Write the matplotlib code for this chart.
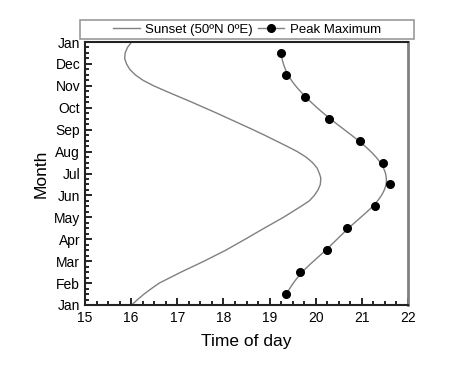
import numpy as np
import matplotlib
matplotlib.use("Agg")
import matplotlib.pyplot as plt
from matplotlib.patches import Rectangle
from matplotlib.ticker import MultipleLocator

plt.rcParams['font.family'] = ['Liberation Sans', 'DejaVu Sans']

# sunset curve (month position, hour of day)
sunset_month = [0.00, 0.25, 0.50, 0.75, 1.00, 1.50, 2.00, 2.50, 3.00, 3.50,
                4.00, 4.50, 4.75, 5.00, 5.25, 5.50, 5.80, 6.00, 6.25, 6.50,
                6.75, 7.00, 7.25, 7.50, 7.75, 8.00, 8.25, 8.50, 8.75, 9.00,
                9.25, 9.50, 9.75, 10.00, 10.25, 10.50, 10.75, 11.00, 11.25,
                11.50, 11.75, 12.00]
sunset_hour = [16.01, 16.14, 16.28, 16.44, 16.61, 17.08, 17.58, 18.05, 18.47, 18.88,
               19.30, 19.68, 19.86, 19.97, 20.05, 20.10, 20.11, 20.08, 20.03, 19.93,
               19.79, 19.60, 19.37, 19.13, 18.89, 18.64, 18.38, 18.12, 17.86, 17.59,
               17.32, 17.04, 16.76, 16.49, 16.26, 16.09, 15.97, 15.90, 15.86,
               15.87, 15.92, 16.01]

# peak maximum, one point per month (mid-month)
peak_month = [0.5, 1.5, 2.5, 3.5, 4.5, 5.5, 6.5, 7.5, 8.5, 9.5, 10.5, 11.5]
peak_hour = [19.36, 19.66, 20.24, 20.68, 21.28, 21.60, 21.46, 20.95, 20.29, 19.76, 19.35, 19.24]

month_labels = ['Jan', 'Feb', 'Mar', 'Apr', 'May', 'Jun', 'Jul',
                'Aug', 'Sep', 'Oct', 'Nov', 'Dec', 'Jan']


def bspline(xs, ys, n=25):
    # uniform cubic B-spline, end points repeated so the curve is clamped
    px = np.r_[xs[0], xs[0], xs, xs[-1], xs[-1]]
    py = np.r_[ys[0], ys[0], ys, ys[-1], ys[-1]]
    t = np.linspace(0, 1, n)
    b0 = (1 - t) ** 3 / 6
    b1 = (3 * t ** 3 - 6 * t ** 2 + 4) / 6
    b2 = (-3 * t ** 3 + 3 * t ** 2 + 3 * t + 1) / 6
    b3 = t ** 3 / 6
    cx, cy = [], []
    for i in range(len(px) - 3):
        cx.append(b0 * px[i] + b1 * px[i + 1] + b2 * px[i + 2] + b3 * px[i + 3])
        cy.append(b0 * py[i] + b1 * py[i + 1] + b2 * py[i + 2] + b3 * py[i + 3])
    return np.concatenate(cx), np.concatenate(cy)


fig = plt.figure(figsize=(4.74, 3.66), dpi=100)
ax = fig.add_axes([85 / 474, 61 / 366, 323 / 474, 263 / 366])

ax.plot(sunset_hour, sunset_month, color='#808080', lw=1.0, label='Sunset (50ºN 0ºE)')

sx, sy = bspline(peak_hour, peak_month)
ax.plot(sx, sy, color='#808080', lw=1.0)
ax.plot(peak_hour, peak_month, 'o', color='black', ms=5.5)
# legend handle: line with a marker
ax.plot([], [], color='#808080', lw=1.0, marker='o', mfc='black',
        mec='black', ms=5.5, label='Peak Maximum')

ax.set_xlim(15, 22)
ax.set_ylim(0, 12)
ax.set_yticks(range(13))
ax.set_yticklabels(month_labels)
ax.xaxis.set_minor_locator(MultipleLocator(0.25))
ax.yaxis.set_minor_locator(MultipleLocator(0.25))
ax.tick_params(which='both', direction='in', top=False, right=False,
               labelsize=10, width=1.2)
ax.tick_params(which='major', length=5)
ax.tick_params(which='minor', length=3)
ax.tick_params(axis='x', pad=4.5)
ax.tick_params(axis='y', pad=3.5)

for side in ['left', 'bottom', 'top']:
    ax.spines[side].set_linewidth(1.5)
    ax.spines[side].set_color('#222222')
ax.spines['right'].set_linewidth(2)
ax.spines['right'].set_color('#808080')

ax.set_xlabel('Time of day', fontsize=12.5, labelpad=6)
ax.set_ylabel('Month', fontsize=12.5, labelpad=4)

handles, labels = ax.get_legend_handles_labels()
fig.legend(handles, labels, loc='center', bbox_to_anchor=(247 / 474, 1 - 29.5 / 366),
           ncol=2, frameon=False, fontsize=9.5, handlelength=2.0,
           columnspacing=0.4, handletextpad=0.4)
fig.patches.append(Rectangle((80 / 474, 1 - 39 / 366), 334 / 474, 19 / 366,
                             transform=fig.transFigure, fill=False,
                             edgecolor='#999999', lw=1.2))

fig.savefig('out.png', dpi=100)
